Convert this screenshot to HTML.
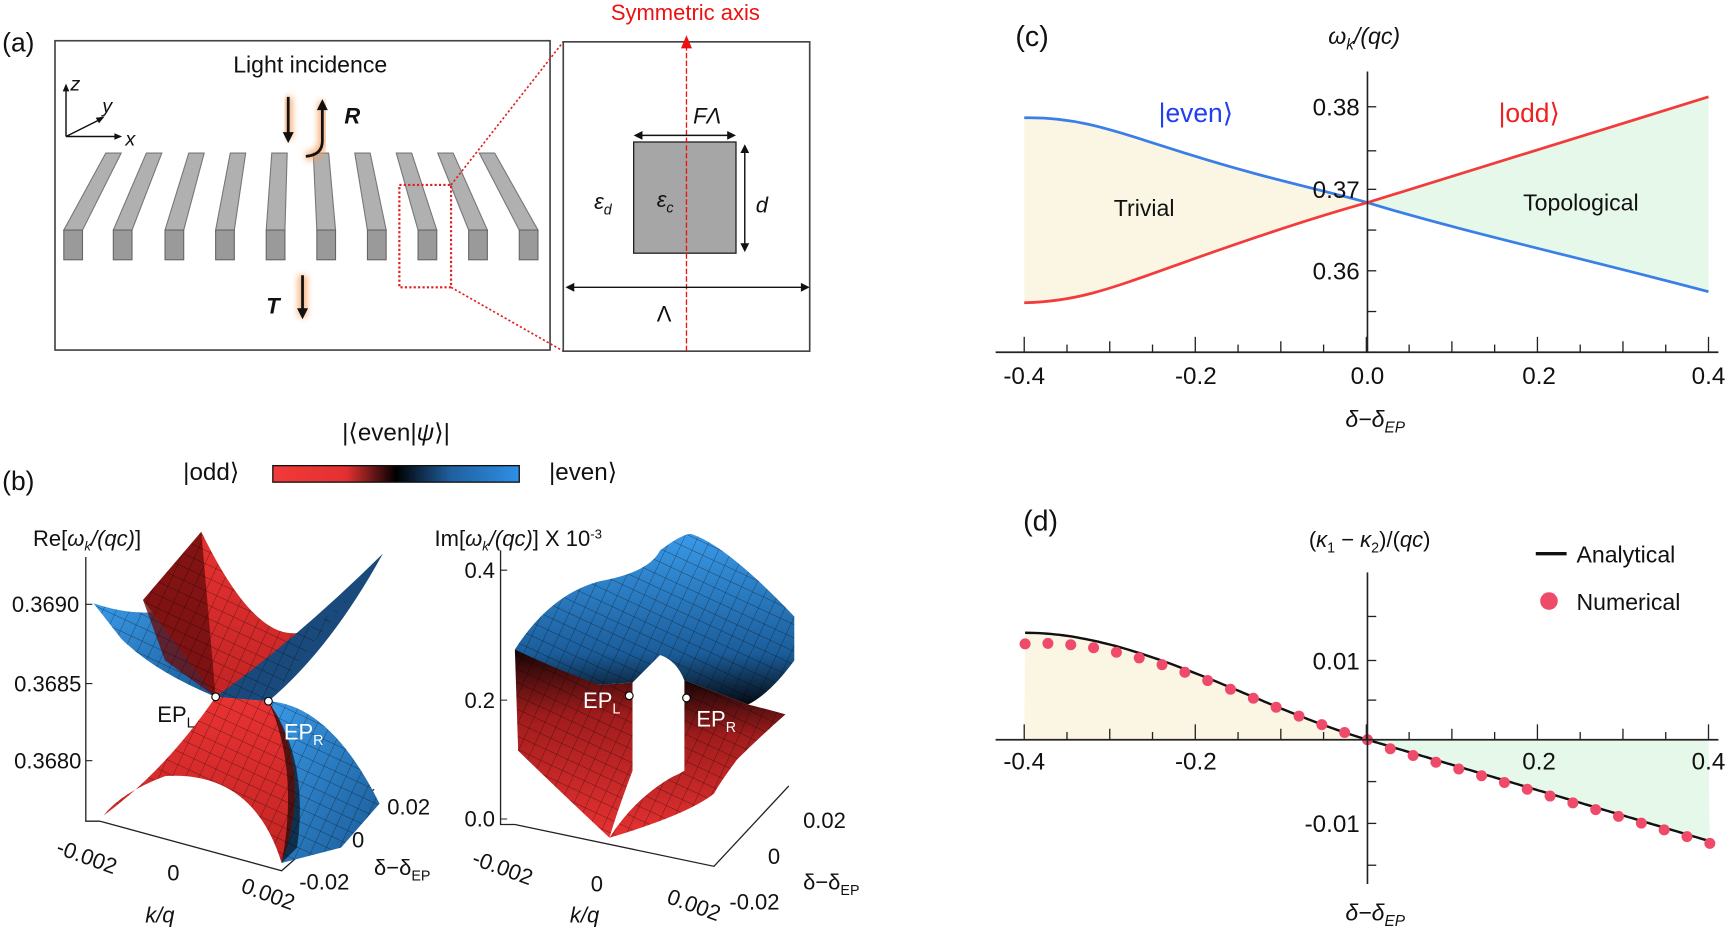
<!DOCTYPE html>
<html><head><meta charset="utf-8"><style>
html,body{margin:0;padding:0;background:#fff}
svg{display:block}
text{font-family:"Liberation Sans",sans-serif;fill:#111}
</style></head><body>
<svg id="s" width="1725" height="950" viewBox="0 0 1568 863" preserveAspectRatio="none" xmlns="http://www.w3.org/2000/svg">
<defs>
<linearGradient id="cb" x1="0" x2="1" y1="0" y2="0"><stop offset="0" stop-color="#f23a3a"/><stop offset="0.3" stop-color="#e23030"/><stop offset="0.5" stop-color="#000"/><stop offset="0.72" stop-color="#1f5f9e"/><stop offset="1" stop-color="#2e90e6"/></linearGradient>
<linearGradient id="bl" x1="0" x2="1" y1="0" y2="1"><stop offset="0" stop-color="#3a9ae8"/><stop offset="1" stop-color="#1a5a96"/></linearGradient>
<linearGradient id="rd" x1="0" x2="0" y1="0" y2="1"><stop offset="0" stop-color="#e83232"/><stop offset="1" stop-color="#c22424"/></linearGradient>
<linearGradient id="rd2" x1="0" x2="0" y1="0" y2="1"><stop offset="0" stop-color="#150505"/><stop offset="0.35" stop-color="#a01c1c"/><stop offset="1" stop-color="#e83232"/></linearGradient>
<linearGradient id="bl2" x1="0" x2="0" y1="0" y2="1"><stop offset="0" stop-color="#3a9ae8"/><stop offset="0.7" stop-color="#1b5d9a"/><stop offset="1" stop-color="#050a10"/></linearGradient>
<pattern id="grid" width="11" height="11" patternUnits="userSpaceOnUse" patternTransform="rotate(25)"><path d="M0,0H11M0,0V11" stroke="#000" stroke-opacity="0.5" stroke-width="0.8" fill="none"/></pattern>
<filter id="glow"><feGaussianBlur stdDeviation="3"/></filter>
<clipPath id="cl1">
<path d="M85,548Q120,560 150,555L196,633Q140,610 110,580Z"/>
<path d="M130,545L183,483Q230,580 270,575Q310,560 348,503L244,637L196,633Z"/>
<path d="M196,633L244,637Q290,700 256,784Q230,700 150,705Q110,720 94,741Q150,700 196,633Z"/>
<path d="M244,637Q300,640 345,730L310,770L256,784Q285,700 244,637Z"/>
</clipPath>
<clipPath id="cl2">
<path d="M468,590Q500,540 545,528Q590,520 600,500Q620,485 628,485Q660,495 722,560L722,600Q700,630 680,640L622,618Q615,600 600,595Q585,610 575,620L545,622Q500,610 468,590Z"/>
<path d="M468,590Q510,610 545,622L575,620L575,700Q560,740 554,761Q510,720 471,682Z"/>
<path d="M622,618L680,640Q700,645 714,649Q690,670 670,690Q655,710 649,721Q625,740 554,761Q580,720 622,700Z"/>
</clipPath>
</defs>

<!-- Panel a -->
<text x="2" y="47" font-size="24">(a)</text>
<rect x="50" y="37" width="450" height="281" fill="none" stroke="#444" stroke-width="1.5"/>
<text x="282" y="66" font-size="21" text-anchor="middle">Light incidence</text>
<g stroke="#111" stroke-width="1.3" fill="none">
<path d="M60,124V80M60,124H107M60,124L92,108"/></g>
<path d="M60,76l-3,7h6zM111,124l-7,-3v6zM95,106l-8,1 3,5z" fill="#111"/>
<text x="64" y="82" font-size="18" font-style="italic">z</text>
<text x="93" y="102" font-size="18" font-style="italic">y</text>
<text x="114" y="132" font-size="18" font-style="italic">x</text>
<g id="bars"></g>
<g filter="url(#glow)" stroke="#f7a060" stroke-width="8" fill="none" opacity="0.8"><path d="M262,88V126M293,92V128Q293,141 278,142M275,250V288"/></g>
<g stroke="#111" stroke-width="2.5" fill="none"><path d="M262,88V122M293,98V128Q293,141 278,142M275,250V282"/></g>
<path d="M262,130l-5,-10h10zM293,90l-5,10h10zM275,290l-5,-10h10z" fill="#111"/>
<text x="313" y="112" font-size="20" font-weight="bold" font-style="italic">R</text>
<text x="242" y="285" font-size="20" font-weight="bold" font-style="italic">T</text>
<rect x="363" y="168" width="47" height="93" fill="none" stroke="#e02020" stroke-width="2" stroke-dasharray="2,2"/>
<path d="M410,168L512,38M410,261L512,319" stroke="#e02020" stroke-width="1.5" stroke-dasharray="2,2"/>
<rect x="512" y="38" width="224" height="281" fill="none" stroke="#444" stroke-width="1.5"/>
<text x="623" y="18" font-size="20" text-anchor="middle" style="fill:#ee1111">Symmetric axis</text>
<rect x="576" y="129" width="93" height="101" fill="#a6a6a6" stroke="#222" stroke-width="1.2"/>
<path d="M624,319V42" stroke="#ee1111" stroke-width="1.2" stroke-dasharray="5,2"/>
<path d="M624,32l-5,12h10z" fill="#ee1111"/>
<g stroke="#111" stroke-width="1.3"><path d="M578,123H667M677,135V225M518,261H732"/></g>
<path d="M576,123l8,-4v8zM669,123l-8,-4v8zM677,131l-4,8h8zM677,229l-4,-8h8zM514,261l8,-4v8zM736,261l-8,-4v8z" fill="#111"/>
<text x="630" y="112" font-size="20" font-style="italic">FΛ</text>
<text x="687" y="193" font-size="20" font-style="italic">d</text>
<text x="540" y="190" font-size="20" font-style="italic">ε<tspan font-size="13" dy="5">d</tspan></text>
<text x="597" y="188" font-size="20" font-style="italic">ε<tspan font-size="13" dy="5">c</tspan></text>
<text x="597" y="292" font-size="20">Λ</text>

<!-- Panel b -->
<text x="2" y="445" font-size="24">(b)</text>
<text x="360" y="400" font-size="22" text-anchor="middle">|⟨even|<tspan font-style="italic">ψ</tspan>⟩|</text>
<text x="192" y="436" font-size="22" text-anchor="middle">|odd⟩</text>
<text x="530" y="436" font-size="22" text-anchor="middle">|even⟩</text>
<rect x="248" y="423" width="224" height="15" fill="url(#cb)" stroke="#111" stroke-width="1.2"/>

<!-- left 3D -->
<text x="30" y="496" font-size="20">Re[<tspan font-style="italic">ω<tspan font-size="12" dy="4">k</tspan><tspan dy="-4">/(qc)</tspan></tspan>]</text>
<path d="M78,506V746L91,746" stroke="#222" stroke-width="1.2" fill="none"/>
<path d="M78,549h6M78,621h6M78,691h6" stroke="#222"/>
<g font-size="20" text-anchor="end"><text x="72" y="556">0.3690</text><text x="74" y="628">0.3685</text><text x="74" y="698">0.3680</text></g>
<path d="M91,746L256,791L340,717" stroke="#222" stroke-width="1.2" fill="none"/>
<g>
<path d="M85,548Q120,560 150,555L196,633Q140,610 110,580Z" fill="url(#bl)"/>
<path d="M130,545L183,483Q230,580 270,575Q310,560 348,503L244,637L196,633Z" fill="url(#rd)"/>
<path d="M130,545L183,483L196,633L150,600Z" fill="#6a0d0d" opacity="0.8"/>
<path d="M348,503Q300,590 244,637L196,633Q270,580 348,503Z" fill="#1a4a7c"/>
<path d="M196,633L244,637Q290,700 256,784Q230,700 150,705Q110,720 94,741Q150,700 196,633Z" fill="url(#rd)"/>
<path d="M244,637Q300,640 345,730L310,770L256,784Q285,700 244,637Z" fill="url(#bl)"/>
<path d="M252,650Q280,700 270,770L256,784Q272,700 244,637Z" fill="#000" opacity="0.6"/>
<rect x="80" y="480" width="280" height="320" fill="url(#grid)" clip-path="url(#cl1)"/>
</g>
<circle cx="196" cy="633" r="3.5" fill="#fff" stroke="#000"/><circle cx="244" cy="637" r="3.5" fill="#fff" stroke="#000"/>
<text x="143" y="656" font-size="20" style="fill:#111">EP<tspan font-size="13" dy="5">L</tspan></text>
<text x="258" y="672" font-size="20" style="fill:#fff">EP<tspan font-size="13" dy="5">R</tspan></text>
<g font-size="20">
<text x="50" y="775" transform="rotate(20 50 775)">-0.002</text>
<text x="152" y="800">0</text>
<text x="218" y="810" transform="rotate(20 218 810)">0.002</text>
<text x="132" y="838" font-style="italic">k/q</text>
<text x="352" y="740">0.02</text><text x="320" y="770">0</text><text x="272" y="808">-0.02</text>
<text x="340" y="795">δ−δ<tspan font-size="13" dy="5">EP</tspan></text>
</g>

<!-- right 3D -->
<text x="395" y="496" font-size="20">Im[<tspan font-style="italic">ω<tspan font-size="12" dy="4">k</tspan><tspan dy="-4">/(qc)</tspan></tspan>] X 10<tspan font-size="12" dy="-7">-3</tspan></text>
<path d="M455,500V749L468,749L649,787L717,714" stroke="#222" stroke-width="1.2" fill="none"/>
<path d="M455,518h6M455,636h6M455,744h6" stroke="#222"/>
<g font-size="20" text-anchor="end"><text x="450" y="525">0.4</text><text x="450" y="643">0.2</text><text x="450" y="751">0.0</text></g>
<path d="M468,590Q500,540 545,528Q590,520 600,500Q620,485 628,485Q660,495 722,560L722,600Q700,630 680,640L622,618Q615,600 600,595Q585,610 575,620L545,622Q500,610 468,590Z" fill="url(#bl2)"/>
<path d="M468,590Q510,610 545,622L575,620L575,700Q560,740 554,761Q510,720 471,682Z" fill="url(#rd2)"/>
<path d="M622,618L680,640Q700,645 714,649Q690,670 670,690Q655,710 649,721Q625,740 554,761Q580,720 622,700Z" fill="url(#rd2)"/>
<rect x="460" y="480" width="270" height="290" fill="url(#grid)" clip-path="url(#cl2)"/>
<path d="M575,620Q600,640 622,618L622,700Q600,715 575,700Z" fill="#fff"/>
<circle cx="572" cy="632" r="3.5" fill="#fff" stroke="#000"/><circle cx="624" cy="634" r="3.5" fill="#fff" stroke="#000"/>
<text x="530" y="643" font-size="20" style="fill:#fff">EP<tspan font-size="13" dy="5">L</tspan></text>
<text x="633" y="660" font-size="20" style="fill:#fff">EP<tspan font-size="13" dy="5">R</tspan></text>
<g font-size="20">
<text x="428" y="785" transform="rotate(20 428 785)">-0.002</text>
<text x="537" y="810">0</text>
<text x="605" y="820" transform="rotate(20 605 820)">0.002</text>
<text x="518" y="838" font-style="italic">k/q</text>
<text x="730" y="752">0.02</text><text x="698" y="785">0</text><text x="663" y="826">-0.02</text>
<text x="730" y="808">δ−δ<tspan font-size="13" dy="5">EP</tspan></text>
</g>

<!-- Panel c -->
<text x="923" y="42" font-size="26">(c)</text>
<text x="1240" y="40" font-size="21" text-anchor="middle" font-style="italic">ω<tspan font-size="14" dy="5">k</tspan><tspan dy="-5">/(qc)</tspan></text>
<path d="M931,107C980,106 1010,118 1080,140S1200,172 1243,184L1243,184S1120,222 1080,237S980,274 931,275Z" fill="#fbf6e4"/>
<path d="M1243,184C1320,208 1440,235 1553,265L1553,88C1440,123 1320,160 1243,184Z" fill="#e6f8ea"/>
<path d="M931,107C980,106 1010,118 1080,140S1200,172 1243,184C1320,208 1440,235 1553,265" stroke="#3a7fe8" stroke-width="2.5" fill="none"/>
<path d="M931,275C980,274 1010,262 1080,237S1200,196 1243,184C1320,160 1440,123 1553,88" stroke="#f23c3c" stroke-width="2.5" fill="none"/>
<path d="M1243,65V320M905,320H1562" stroke="#222" stroke-width="1.5" fill="none"/>
<g id="ctick" stroke="#222" stroke-width="1.2"></g>
<g font-size="22" text-anchor="end"><text x="1236" y="105">0.38</text><text x="1236" y="180">0.37</text><text x="1236" y="254">0.36</text></g>
<g font-size="22" text-anchor="middle"><text x="931" y="349">-0.4</text><text x="1087" y="349">-0.2</text><text x="1243" y="349">0.0</text><text x="1399" y="349">0.2</text><text x="1553" y="349">0.4</text></g>
<text x="1250" y="388" font-size="21" text-anchor="middle" font-style="italic">δ−δ<tspan font-size="14" dy="5">EP</tspan></text>
<text x="1087" y="111" font-size="24" text-anchor="middle" style="fill:#1f3ff0">|even⟩</text>
<text x="1390" y="111" font-size="24" text-anchor="middle" style="fill:#ee2222">|odd⟩</text>
<text x="1040" y="196" font-size="21" text-anchor="middle">Trivial</text>
<text x="1437" y="191" font-size="21" text-anchor="middle">Topological</text>

<!-- Panel d -->
<text x="930" y="482" font-size="26">(d)</text>
<text x="1245" y="497" font-size="20" text-anchor="middle">(<tspan font-style="italic">κ</tspan><tspan font-size="13" dy="5">1</tspan><tspan dy="-5"> − </tspan><tspan font-style="italic">κ</tspan><tspan font-size="13" dy="5">2</tspan><tspan dy="-5">)/(</tspan><tspan font-style="italic">qc</tspan>)</text>
<path d="M1396,503H1424" stroke="#111" stroke-width="3"/>
<text x="1433" y="511" font-size="21">Analytical</text>
<circle cx="1408" cy="546" r="8" fill="#f04a6a"/>
<text x="1433" y="554" font-size="21">Numerical</text>
<path id="dyel" fill="#fbf6e4"/><path id="dgrn" fill="#e6f8ea"/>
<path id="dline" stroke="#111" stroke-width="2.2" fill="none"/>
<g id="ddots" fill="#f04a6a"></g>
<path d="M1243,520V803M905,672H1562" stroke="#222" stroke-width="1.5" fill="none"/>
<g id="dtick" stroke="#222" stroke-width="1.2"></g>
<g font-size="22" text-anchor="end"><text x="1236" y="608">0.01</text><text x="1236" y="756">-0.01</text></g>
<g font-size="22" text-anchor="middle"><text x="931" y="699">-0.4</text><text x="1087" y="699">-0.2</text><text x="1399" y="699">0.2</text><text x="1553" y="699">0.4</text></g>
<text x="1250" y="836" font-size="21" text-anchor="middle" font-style="italic">δ−δ<tspan font-size="14" dy="5">EP</tspan></text>
</svg>
<script>
var NS="http://www.w3.org/2000/svg";
function el(p,t,a){var e=document.createElementNS(NS,t);for(var k in a)e.setAttribute(k,a[k]);p.appendChild(e);return e;}
var bars=document.getElementById('bars');
[58,103,150,196,242,288,334,380,426,472].forEach(function(xf){
 var xt=270+(xf-270)*0.82;
 el(bars,'polygon',{points:xt+',139 '+(xt+14)+',139 '+(xf+17)+',209 '+xf+',209',fill:'#b0b0b0',stroke:'#777','stroke-width':1});
 el(bars,'rect',{x:xf,y:209,width:17,height:27,fill:'#9a9a9a',stroke:'#666','stroke-width':1});
});
var ct=document.getElementById('ctick');
for(var i=0;i<=16;i++){var x=931+i*(622/16);var L=(i%4==0)?14:(i%2==0?10:7);el(ct,'line',{x1:x,x2:x,y1:320,y2:320-L});}
[97,137,172,209,246,283].forEach(function(y){el(ct,'line',{x1:1243,x2:1251,y1:y,y2:y});});
var X=function(u){return 1243+u*778;},Y=function(v){return 672-v*7200;};
function f(u){return u>=0?-0.032*u:(-0.032*u+0.0931*u*u+0.2219*u*u*u);}
var d='',yel='M931,672',grn='M1243,672';
for(var i=0;i<=160;i++){var u=-0.4+i*0.005;var p=X(u).toFixed(1)+','+Y(f(u)).toFixed(1);d+=(i?'L':'M')+p;if(u<=0.0001)yel+='L'+p;if(u>=-0.0001)grn+='L'+p;}
yel+='L1243,672Z';grn+='L1553,672Z';
document.getElementById('dline').setAttribute('d',d);
document.getElementById('dyel').setAttribute('d',yel);
document.getElementById('dgrn').setAttribute('d',grn);
var dd=document.getElementById('ddots');
for(var i=0;i<=30;i++){var u=-0.4+i*0.8/30;var v=f(u);if(u<0)v-=0.0014*Math.pow(u/0.4,2);el(dd,'circle',{cx:X(u),cy:Y(v)+(u>0?2:0),r:5});}
var dt=document.getElementById('dtick');
for(var i=0;i<=16;i++){var x=931+i*(622/16);var L=(i%4==0)?14:(i%2==0?10:7);el(dt,'line',{x1:x,x2:x,y1:672,y2:672-L});}
[560,600,636,710,748,786].forEach(function(y){el(dt,'line',{x1:1243,x2:1251,y1:y,y2:y});});
</script>
</body></html>
